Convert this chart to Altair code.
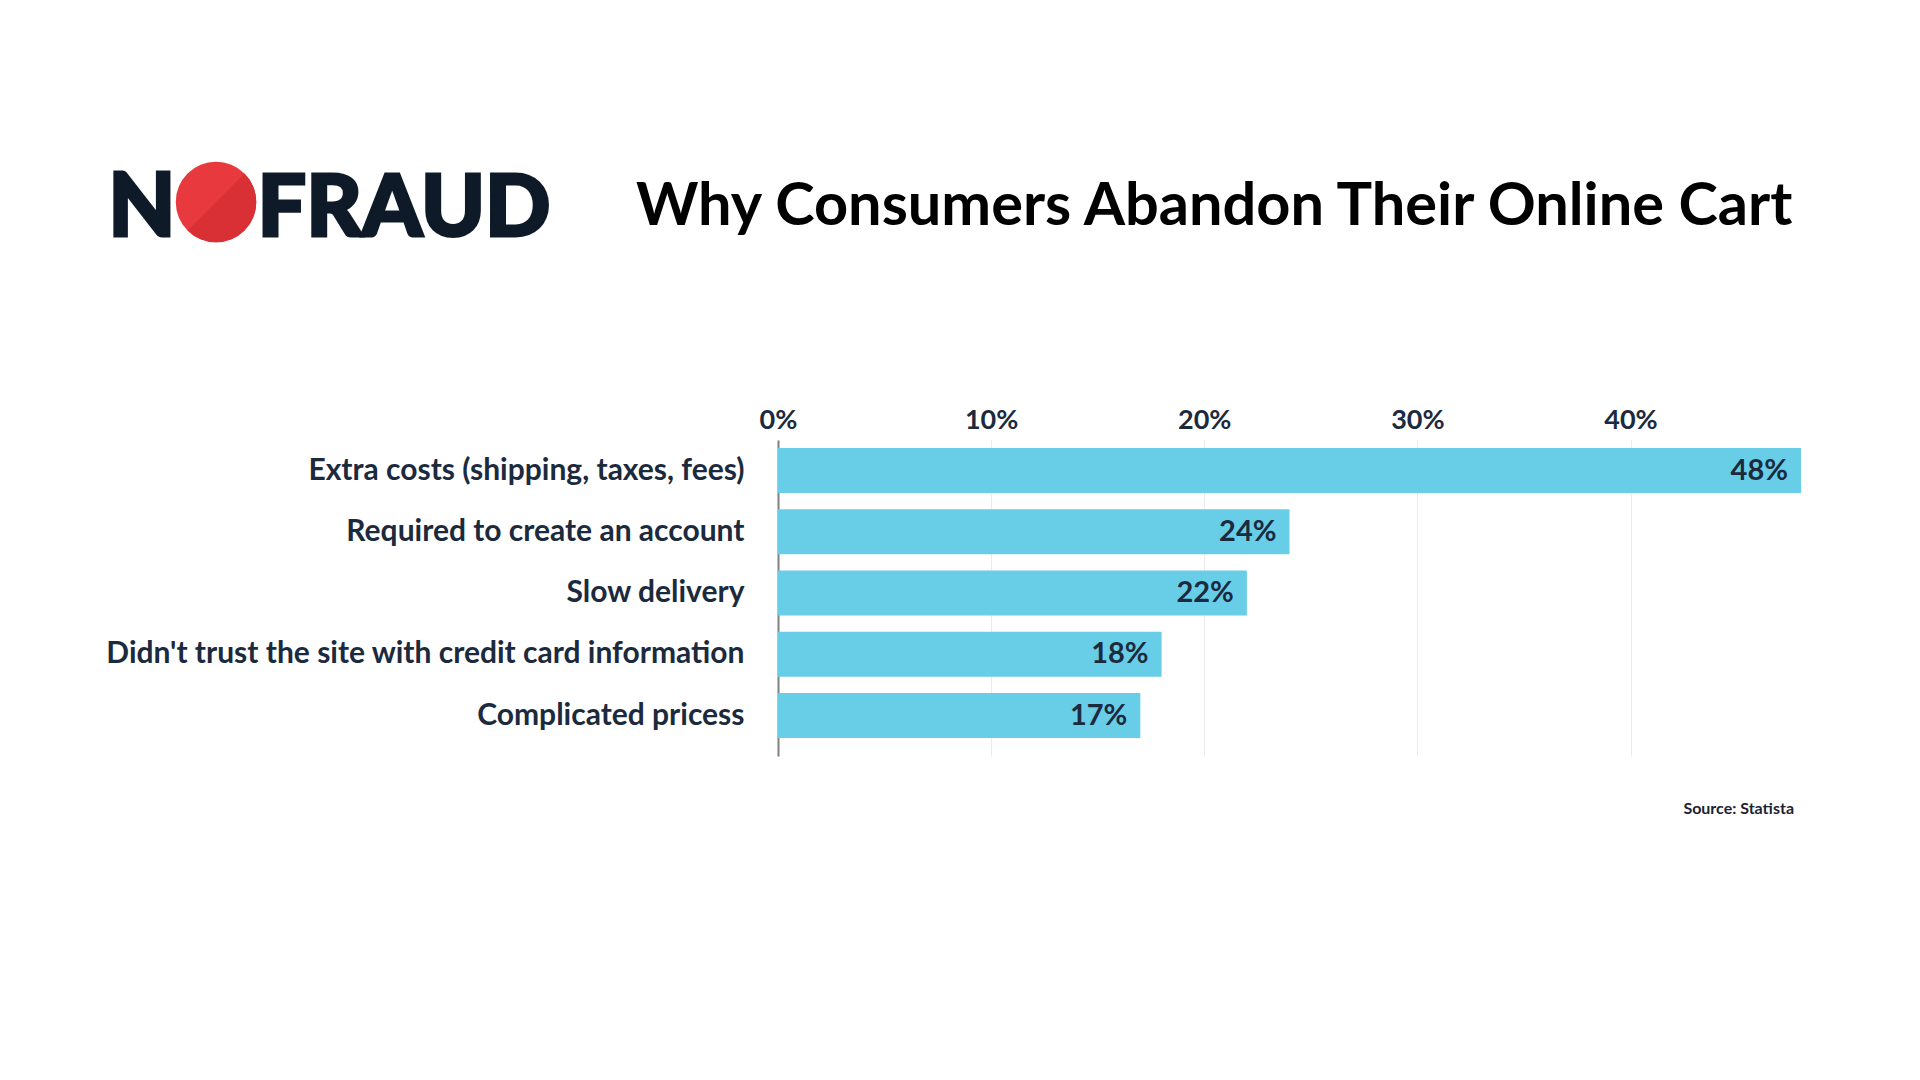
import altair as alt
import pandas as pd

# ---- data ----
reasons = [
    "Extra costs (shipping, taxes, fees)",
    "Required to create an account",
    "Slow delivery",
    "Didn't trust the site with credit card information",
    "Complicated pricess",
]
shares = [48, 24, 22, 18, 17]
tick_values = [0, 10, 20, 30, 40]

title_text = "Why Consumers Abandon Their Online Cart"
source_text = "Source: Statista"
logo_left = "N"
logo_right = "FRAUD"

df = pd.DataFrame({"reason": reasons, "share": shares})
df["label"] = [f"{v}%" for v in shares]

FONT = "Lato"
NAVY = "#1c2a3e"
BAR = "#68cde6"
LOGO = "#0e1a28"

W, H = 1023, 316

y_enc = alt.Y(
    "reason:N",
    sort=reasons,
    title=None,
    scale=alt.Scale(paddingInner=0.265, paddingOuter=0.212, align=0.31),
    axis=alt.Axis(
        labelFont=FONT,
        labelFontSize=30,
        labelFontWeight="bold",
        labelColor=NAVY,
        labelPadding=34,
        ticks=False,
        tickSize=0,
        domainColor="#808080",
        domainWidth=2,
        grid=False,
        labelLimit=900,
    ),
)
x_enc = alt.X(
    "share:Q",
    title=None,
    scale=alt.Scale(domain=[0, 48], nice=False),
    axis=alt.Axis(
        orient="top",
        values=tick_values,
        format=".0f",
        labelExpr="datum.value + '%'",
        labelFont=FONT,
        labelFontSize=27,
        labelFontWeight="bold",
        labelColor=NAVY,
        labelPadding=6,
        labelFlush=False,
        ticks=False,
        tickSize=0,
        domain=False,
        grid=True,
        gridColor="#ebebeb",
        gridWidth=1,
    ),
)

bars = alt.Chart(df).mark_bar(color=BAR).encode(x=x_enc, y=y_enc)
values = alt.Chart(df).mark_text(
    align="right", baseline="middle", dx=-13, font=FONT, fontSize=29,
    fontWeight="bold", color=NAVY
).encode(x="share:Q", y=alt.Y("reason:N", sort=reasons), text="label:N")

one = pd.DataFrame({"k": [0]})

title = alt.Chart(one).mark_text(
    text=title_text, align="left", baseline="alphabetic", font=FONT,
    fontSize=59.5, fontWeight="bold", color="#000000"
).encode(x=alt.value(-142), y=alt.value(-215))

logo_n = alt.Chart(one).mark_text(
    text=logo_left, align="center", baseline="alphabetic", font=FONT,
    fontSize=87, fontWeight=900, color=LOGO, stroke=LOGO, strokeWidth=3
).encode(x=alt.value(-636), y=alt.value(-204))
logo_f = alt.Chart(one).mark_text(
    text=logo_right, align="center", baseline="alphabetic", font=FONT,
    fontSize=86, fontWeight=900, color=LOGO, stroke=LOGO, strokeWidth=3
).encode(x=alt.value(-374), y=alt.value(-204))
logo_circle = alt.Chart(one).mark_point(
    shape="circle", filled=True, size=6480, color="#e8393f", opacity=1
).encode(x=alt.value(-562), y=alt.value(-238))
logo_half = alt.Chart(one).mark_arc(
    theta=0.785, theta2=3.927, radius=40.2, color="#d93035"
).encode(x=alt.value(-562), y=alt.value(-238))

source = alt.Chart(one).mark_text(
    text=source_text, align="right", baseline="alphabetic", font=FONT,
    fontSize=16, fontWeight="bold", color="#1b2233"
).encode(x=alt.value(1016), y=alt.value(374))

chart = alt.layer(
    bars, values, title, logo_circle, logo_half, logo_n, logo_f, source
).properties(
    width=W,
    height=H,
    autosize=alt.AutoSizeParams(type="none"),
    padding={"left": 770, "top": 432, "right": 105, "bottom": 300},
    background="white",
).configure_view(stroke=None)

chart.save("out.html", embed_options={"renderer": "svg", "actions": False})
